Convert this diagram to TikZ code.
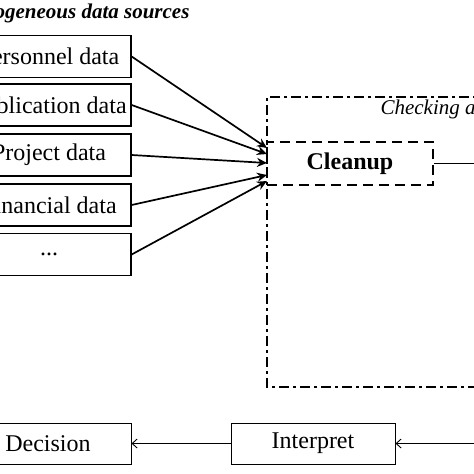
\documentclass[tikz,border=0pt]{standalone}
\usepackage{fontspec}
\setmainfont{Liberation Serif}
\usetikzlibrary{arrows.meta}
\begin{document}
\begin{tikzpicture}[x=1pt,y=-1pt,
  srcbox/.style={draw,line width=1.3pt,minimum width=164pt,minimum height=42pt,inner sep=0pt,font=\fontsize{24}{28}\selectfont},
  botbox/.style={draw,line width=1pt,minimum width=164pt,minimum height=41pt,inner sep=0pt,font=\fontsize{24}{28}\selectfont},
  feed/.style={line width=1.7pt,-{Stealth[length=10pt,width=9pt]}},
  thinarrow/.style={line width=0.9pt,-{Straight Barb[length=5pt,width=9pt]}},
  dashbox/.style={draw,line width=2pt,dash pattern=on 10pt off 6pt,minimum width=166pt,minimum height=43pt,inner sep=0pt,font=\bfseries\fontsize{24}{28}\selectfont},
  dotdash/.style={line width=2pt,dash pattern=on 10pt off 4pt on 3pt off 4pt}]
\useasboundingbox (0,0) rectangle (474,474);
\fill[white] (0,0) rectangle (474,474);
\begin{scope}
\clip (0,0) rectangle (474,474);
\node[anchor=east,font=\bfseries\itshape\fontsize{21}{24}\selectfont] (title) at (193,13) {Heterogeneous data sources};
\node[srcbox] (pers) at (49,56.5) {Personnel data};
\node[srcbox] (publ) at (49,105) {Publication data};
\node[srcbox] (proj) at (49,155) {Project data};
\node[srcbox] (fin) at (49,205) {Financial data};
\node[srcbox] (more) at (49,254.5) {...};
\draw[dotdash] (490,97) -- (267,97) -- (267,387) -- (490,387);
\node[anchor=west,font=\itshape\fontsize{21}{24}\selectfont] (chk) at (377,109) {Checking and};
\node[dashbox] (clean) at (350,163.5) {Cleanup};
\coordinate (e1) at (267,148);
\coordinate (e2) at (267,154);
\coordinate (e3) at (267,163);
\coordinate (e4) at (267,175);
\coordinate (e5) at (267,181);
\draw[feed] (pers.east) -- (e1);
\draw[feed] (publ.east) -- (e2);
\draw[feed] (proj.east) -- (e3);
\draw[feed] (fin.east) -- (e4);
\draw[feed] (more.east) -- (e5);
\coordinate (cr) at (490,163.5);
\draw[line width=1pt] (clean.east) -- (cr);
\node[botbox,minimum width=166pt] (dec) at (48,443.5) {Decision};
\node[botbox] (interp) at (313,443.5) {Interpret};
\coordinate (br) at (490,443.5);
\draw[thinarrow] (interp.west) -- (dec.east);
\draw[thinarrow] (br) -- (interp.east);
\end{scope}
\end{tikzpicture}
\end{document}
